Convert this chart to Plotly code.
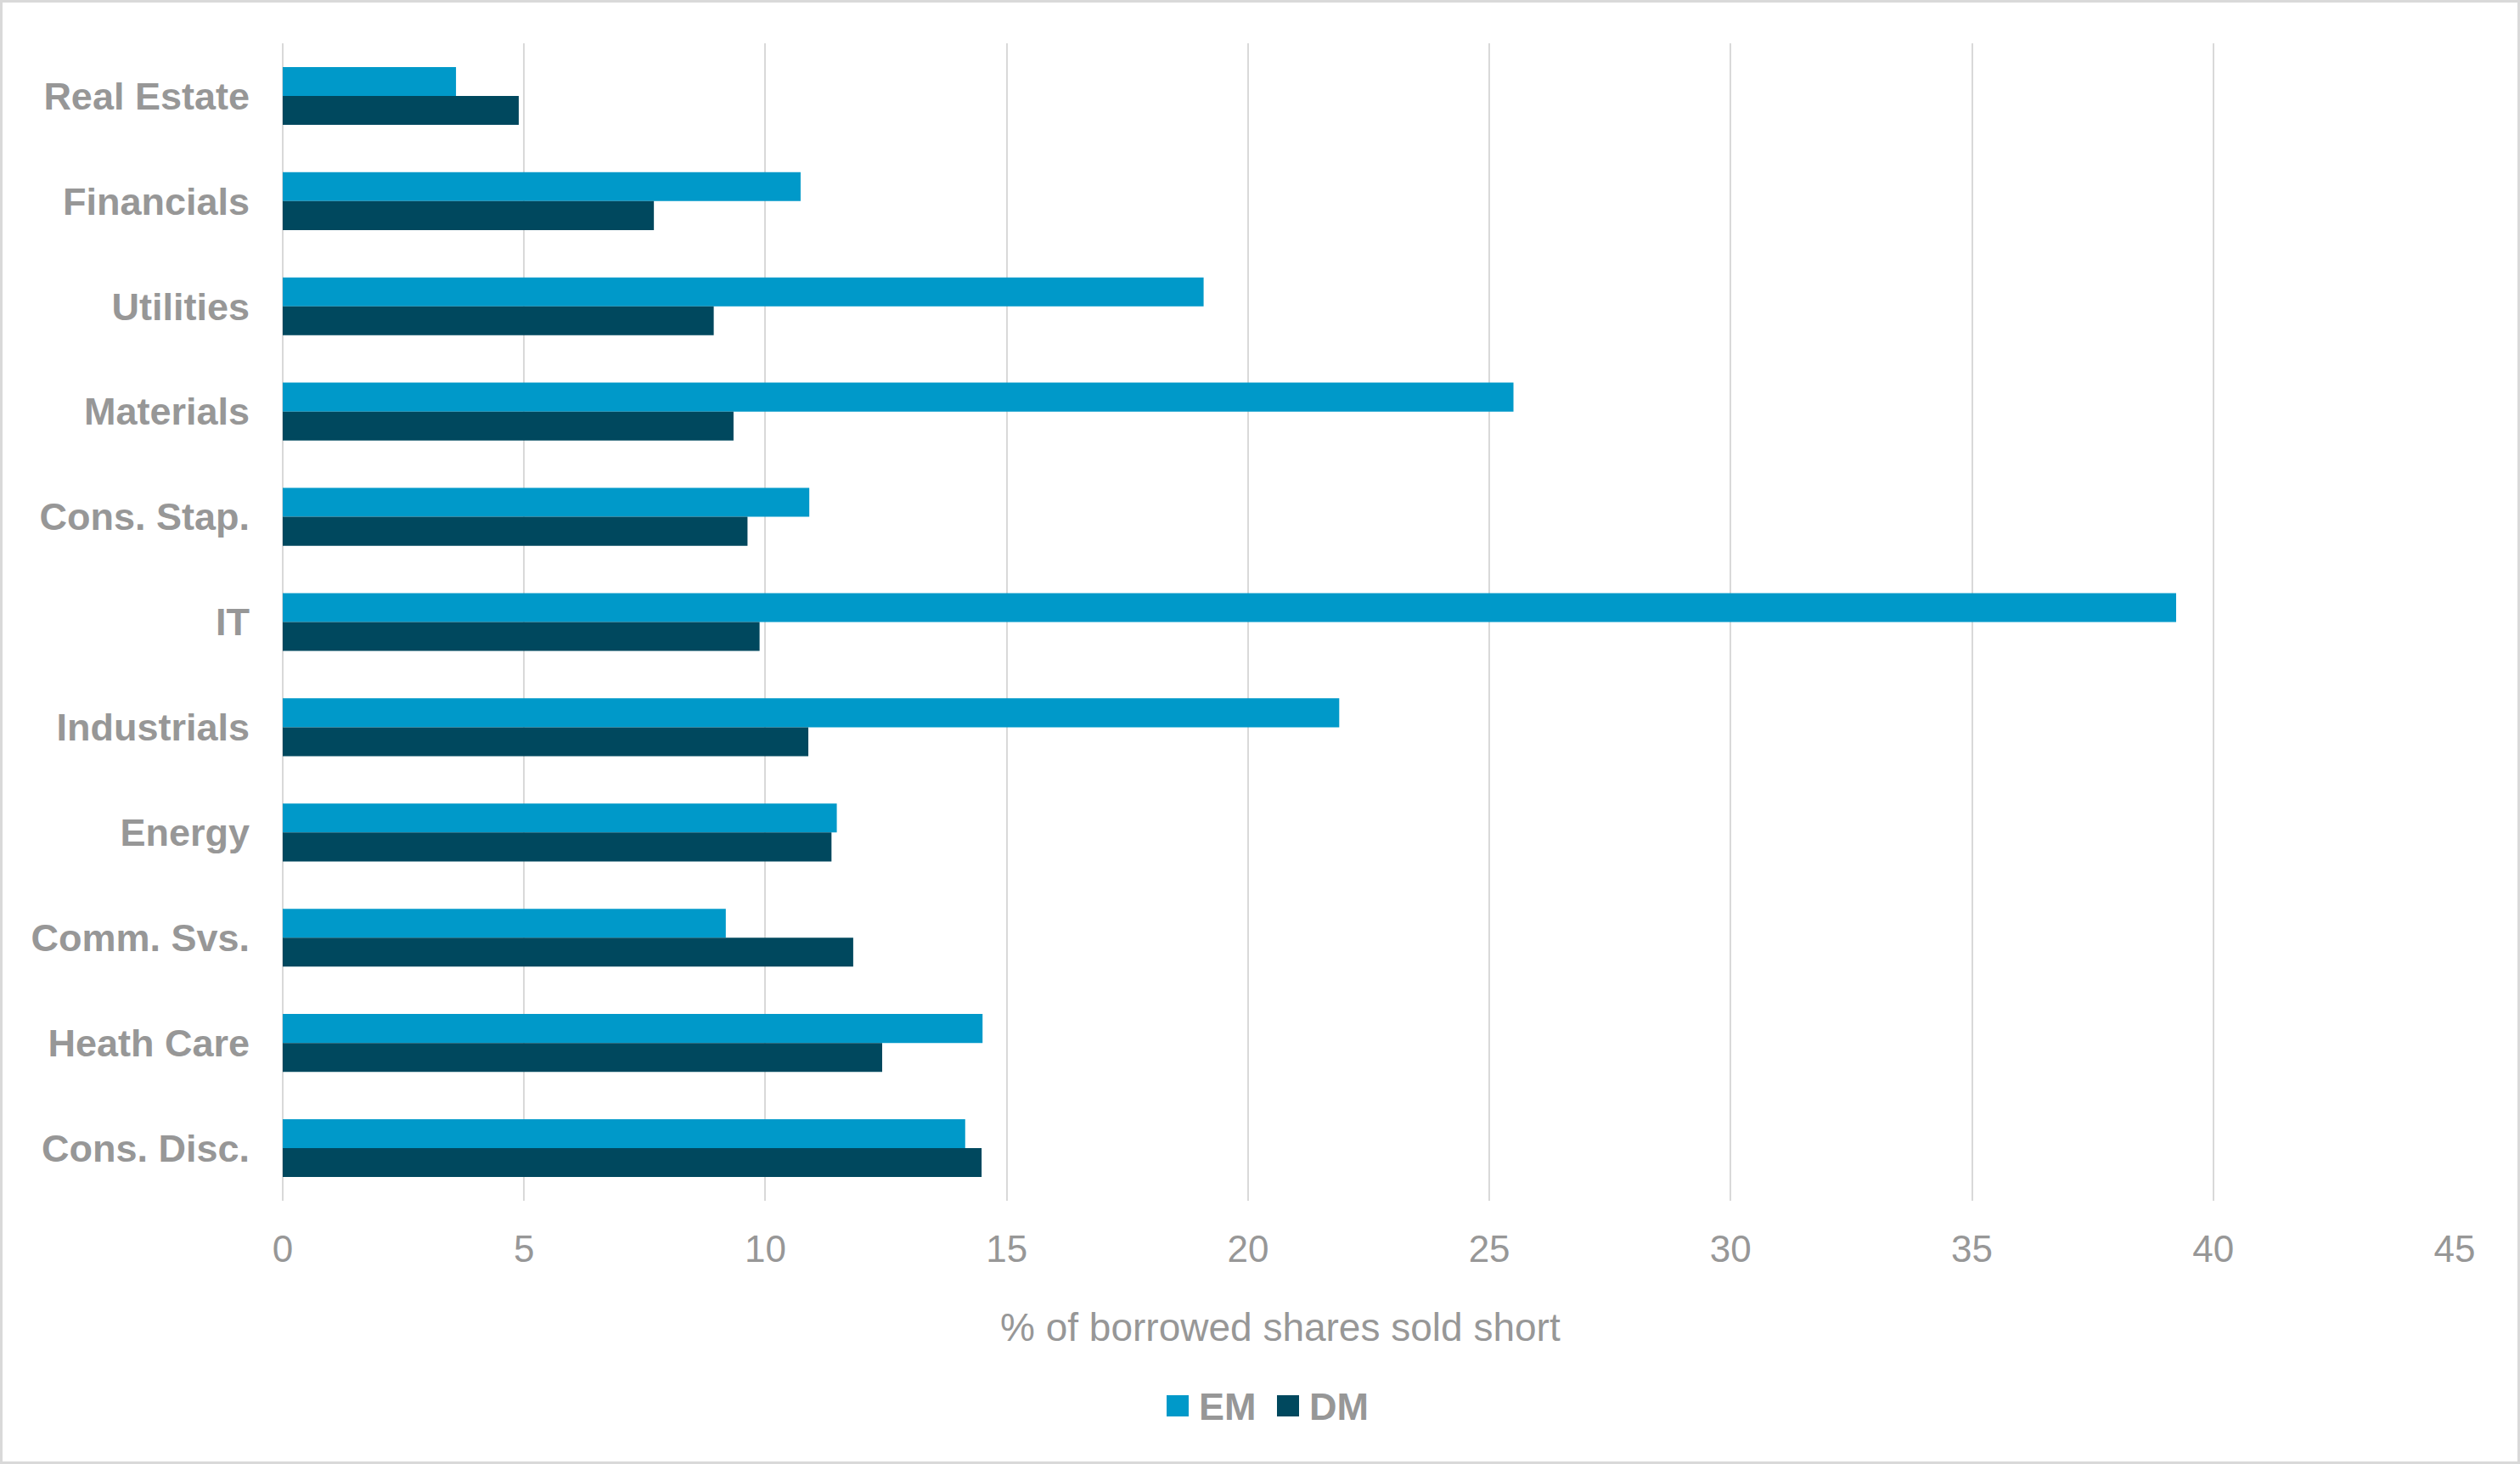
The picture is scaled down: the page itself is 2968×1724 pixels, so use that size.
import plotly.graph_objects as go

categories = ["Real Estate", "Financials", "Utilities", "Materials", "Cons. Stap.",
              "IT", "Industrials", "Energy", "Comm. Svs.", "Heath Care", "Cons. Disc."]
em_values = [3.59, 10.73, 19.08, 25.50, 10.91, 39.23, 21.89, 11.48, 9.18, 14.50, 14.14]
dm_values = [4.89, 7.69, 8.93, 9.34, 9.63, 9.88, 10.89, 11.37, 11.82, 12.42, 14.48]
x_ticks = [0, 5, 10, 15, 20, 25, 30, 35, 40, 45]
series_names = ["EM", "DM"]

W, H = 2968, 1724
L, R, T, B = 333, 2891, 51, 1414
pw, ph = R - L, B - T

def px_x(p):
    return (p - L) / pw

def px_y(p):
    return (B - p) / ph

EM_COLOR = "#0099C9"
DM_COLOR = "#00485E"
GRAY = "#979797"
FONT = "Liberation Sans, Arial, sans-serif"

fig = go.Figure()
fig.add_trace(go.Bar(y=categories, x=em_values, name=series_names[0], orientation="h",
                     marker=dict(color=EM_COLOR, line=dict(width=0)), showlegend=False))
fig.add_trace(go.Bar(y=categories, x=dm_values, name=series_names[1], orientation="h",
                     marker=dict(color=DM_COLOR, line=dict(width=0)), showlegend=False))

# legend drawn as swatches + labels (to get Excel-sized square swatches)
legend_items = [(series_names[0], EM_COLOR, 1374, 1410), (series_names[1], DM_COLOR, 1504, 1540)]
shapes = [dict(type="rect", xref="paper", yref="paper",
               x0=px_x(1.5), x1=px_x(W - 1.5), y0=px_y(H - 1.5), y1=px_y(1.5),
               line=dict(color="#D9D9D9", width=3), fillcolor="rgba(0,0,0,0)", layer="below")]
annotations = [dict(text="% of borrowed shares sold short", xref="paper", yref="paper",
                    x=px_x(1508), y=px_y(1563), xanchor="center", yanchor="middle",
                    showarrow=False, font=dict(size=46, family=FONT, color=GRAY))]
for name, col, sx, tx in legend_items:
    shapes.append(dict(type="rect", xref="paper", yref="paper",
                       x0=px_x(sx), x1=px_x(sx + 26), y0=px_y(1668), y1=px_y(1643),
                       line=dict(width=0), fillcolor=col))
    annotations.append(dict(text="<b>%s</b>" % name, xref="paper", yref="paper",
                            x=px_x(tx), y=px_y(1656), xanchor="left", yanchor="middle",
                            showarrow=False, font=dict(size=45, family=FONT, color=GRAY)))

fig.update_layout(
    width=W, height=H,
    margin=dict(l=L, r=W - R, t=T, b=H - B, pad=0),
    paper_bgcolor="white", plot_bgcolor="white",
    barmode="group", bargap=0.45, bargroupgap=0,
    font=dict(family=FONT, color=GRAY),
    showlegend=False,
    xaxis=dict(range=[0, 45], tickvals=x_ticks, ticktext=[str(v) for v in x_ticks],
               showgrid=True, gridcolor="#D9D9D9", gridwidth=2,
               zeroline=True, zerolinecolor="#D9D9D9", zerolinewidth=2,
               showline=False, ticks="outside", ticklen=18, tickcolor="rgba(0,0,0,0)",
               tickfont=dict(size=44, family=FONT, color=GRAY), fixedrange=True),
    yaxis=dict(categoryorder="array", categoryarray=categories, autorange="reversed",
               showgrid=False, zeroline=False, showline=False,
               ticks="outside", ticklen=29, tickcolor="rgba(0,0,0,0)",
               tickfont=dict(size=45, family=FONT, color=GRAY, weight="bold")),
    annotations=annotations,
    shapes=shapes,
)

fig.write_html("out.html", config={"displayModeBar": False},
               post_script="document.body.style.margin='0px';")
